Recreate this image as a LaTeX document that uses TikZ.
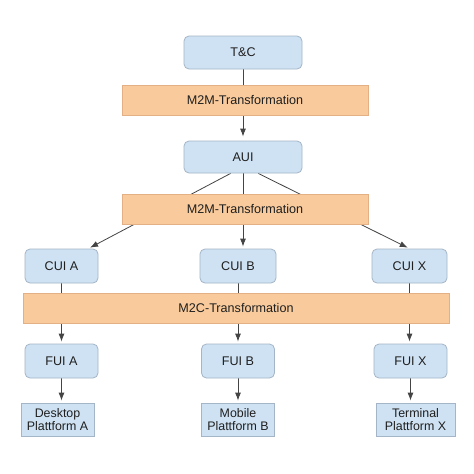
\documentclass[tikz,border=0pt]{standalone}
\usepackage{fontspec}
\setmainfont{Liberation Sans}
\usepackage{tikz}
\usetikzlibrary{arrows.meta}
\definecolor{lblue}{HTML}{CFE2F3}
\definecolor{bblue}{HTML}{A3B5C6}
\definecolor{lorange}{HTML}{F9CB9C}
\definecolor{borange}{HTML}{E3AF85}
\definecolor{dgrey}{HTML}{444444}
\pgfdeclarelayer{edgelayer}
\pgfdeclarelayer{nodelayer}
\pgfsetlayers{edgelayer,nodelayer,main}
\tikzstyle{model}=[rectangle,rounded corners=5,fill=lblue,draw=bblue,line width=0.8,inner sep=0pt,minimum width=73,minimum height=34,text=black!88,font=\fontsize{12.6}{13.5}\selectfont]
\tikzstyle{platform}=[rectangle,fill=lblue,draw=bblue,line width=0.8,inner sep=0pt,minimum width=73,minimum height=33,align=center,text=black!88,font=\fontsize{12.4}{13.5}\selectfont]
\tikzstyle{transformation}=[rectangle,fill=lorange,draw=borange,line width=0.8,inner sep=0pt,minimum width=246,minimum height=30,text=black!88,font=\fontsize{12.6}{13.5}\selectfont]
\tikzstyle{inarrow}=[->, >={Latex[length=8pt,width=6pt]}, draw=dgrey, shorten >=2pt, line width=0.8]

\begin{document}
\begin{tikzpicture}[x=1pt,y=-1pt]
	\begin{pgfonlayer}{nodelayer}
		\node [style=model, minimum width=118, minimum height=33] (TC) at (243, 52.5) {T\&C};
		\node [style=transformation] (MM1) at (245, 100) {M2M-Transformation};
		\node [style=model, minimum width=118, minimum height=32] (AUI) at (243, 157) {AUI};
		\node [style=transformation] (MM2) at (245, 209) {M2M-Transformation};

		\node [style=model] (CUIA) at (61.5, 266) {CUI A};
		\node [style=model, minimum width=76] (CUIB) at (238, 266) {CUI B};
		\node [style=model, minimum width=75] (CUIX) at (409.5, 266) {CUI X};

		\node [style=transformation, minimum width=426] (MC) at (236, 308) {M2C-Transformation};

		\node [style=model] (FUIA) at (61.5, 361) {FUI A};
		\node [style=model] (FUIB) at (238, 361) {FUI B};
		\node [style=model] (FUIX) at (410.5, 361) {FUI X};

		\node [style=platform] (DeskA) at (57.5, 419.5) {Desktop\\Plattform A};
		\node [style=platform] (MobB) at (238, 419.5) {Mobile\\Plattform B};
		\node [style=platform, minimum width=79] (TermX) at (415.5, 419.5) {Terminal\\Plattform X};
	\end{pgfonlayer}
	\begin{pgfonlayer}{edgelayer}
		\fill [white] (0,0) rectangle (474,474);
		\draw [style=inarrow, shorten >=4pt] (TC) to (AUI);
		\draw [style=inarrow] (AUI.-127) to (CUIA.33);
		\draw [style=inarrow] (AUI) to (AUI |- CUIB.north);
		\draw [style=inarrow] (AUI.-47) to (CUIX.north);
		\draw [style=inarrow] (CUIA) to (FUIA);
		\draw [style=inarrow] (CUIB) to (FUIB);
		\draw [style=inarrow] (CUIX) to (CUIX |- FUIX.north);
		\draw [style=inarrow] (FUIA) to (FUIA |- DeskA.north);
		\draw [style=inarrow] (FUIB) to (MobB);
		\draw [style=inarrow] (FUIX) to (FUIX |- TermX.north);
	\end{pgfonlayer}
	\useasboundingbox (0,0) rectangle (474,474);
\end{tikzpicture}
\end{document}
